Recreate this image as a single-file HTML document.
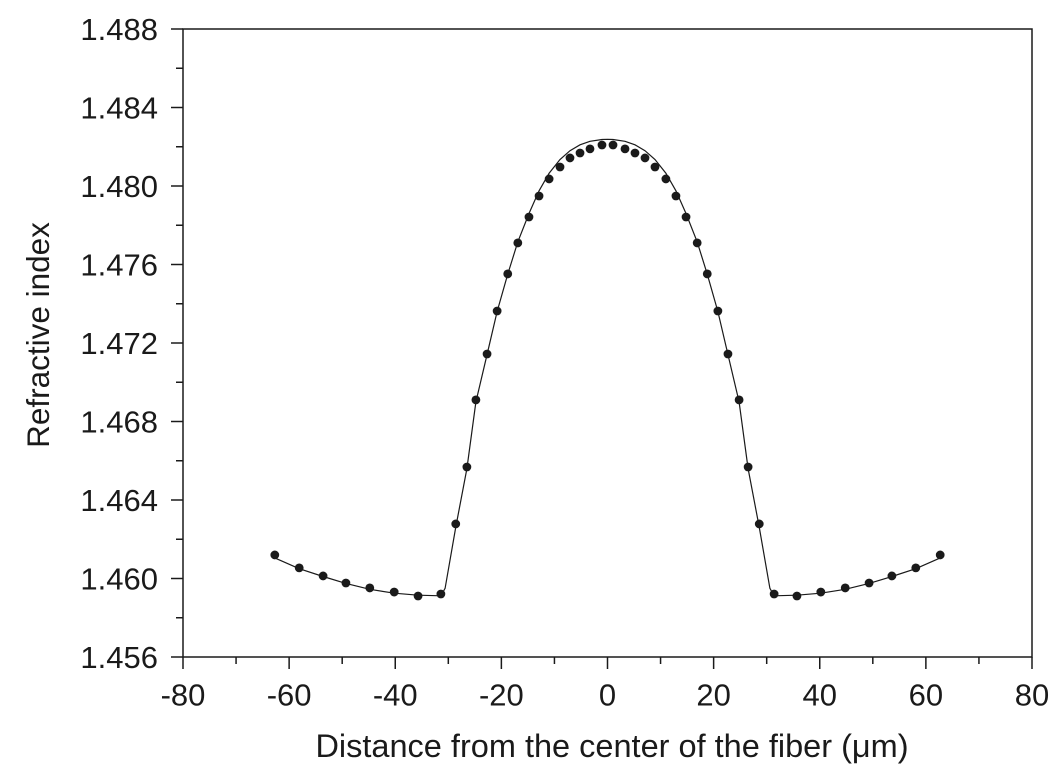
<!DOCTYPE html>
<html><head><meta charset="utf-8"><style>
body{margin:0;background:#fff}
svg text{font-family:"Liberation Sans",sans-serif;fill:#1a1a1a}
</style></head><body>
<svg id="c" width="1053" height="777"></svg>
<script>
const xs=[-62.7,-58.1,-53.6,-49.3,-44.8,-40.2,-35.7,-31.4,-28.6,-26.5,-24.8,-22.7,-20.8,-18.8,-16.9,-14.8,-12.9,-11.0,-8.95,-7.07,-5.18,-3.3,-1.04,1.04,3.3,5.18,7.07,8.95,11.0,12.9,14.8,16.9,18.8,20.8,22.7,24.8,26.5,28.6,31.4,35.7,40.2,44.8,49.3,53.6,58.1,62.7];
const ys=[1.46120,1.46054,1.46013,1.45977,1.45952,1.45931,1.45911,1.45921,1.46278,1.46568,1.46910,1.47144,1.47363,1.47552,1.47710,1.47842,1.47949,1.48036,1.48097,1.48143,1.48168,1.48189,1.48209,1.48209,1.48189,1.48168,1.48143,1.48097,1.48036,1.47949,1.47842,1.47710,1.47552,1.47363,1.47144,1.46910,1.46568,1.46278,1.45921,1.45911,1.45931,1.45952,1.45977,1.46013,1.46054,1.46120];
const fitX=[-62.7,-58.1,-53.6,-49.3,-44.8,-40.2,-35.7,-31.4,-30.6,-28.6,-26.5,-24.8,-22.7,-20.8,-18.8,-16.9,-14.8,-12.9,-11.0,-8.95,-7.07,-5.18,-3.3,-1.04,0,1.04,3.3,5.18,7.07,8.95,11.0,12.9,14.8,16.9,18.8,20.8,22.7,24.8,26.5,28.6,30.6,31.4,35.7,40.2,44.8,49.3,53.6,58.1,62.7];
const fitY=[1.46105,1.46050,1.46010,1.45975,1.45945,1.45925,1.45915,1.45912,1.45950,1.46260,1.46560,1.46900,1.47140,1.47360,1.47550,1.47715,1.47860,1.47975,1.48065,1.48135,1.48180,1.48210,1.48228,1.48237,1.48238,1.48237,1.48228,1.48210,1.48180,1.48135,1.48065,1.47975,1.47860,1.47715,1.47550,1.47360,1.47140,1.46900,1.46560,1.46260,1.45950,1.45912,1.45915,1.45925,1.45945,1.45975,1.46010,1.46050,1.46105];
const xTicks=[-80,-60,-40,-20,0,20,40,60,80];
const yTicks=[1.456,1.460,1.464,1.468,1.472,1.476,1.480,1.484,1.488];
const L=183,R=1032,T=29,B=657;
const sx=v=>L+(v+80)/160*(R-L);
const sy=v=>B-(v-1.456)/0.032*(B-T);
const svg=document.getElementById('c');const NS='http://www.w3.org/2000/svg';
function mk(t,a,p){const e=document.createElementNS(NS,t);for(const k in a)e.setAttribute(k,a[k]);(p||svg).appendChild(e);return e;}
const frame=mk('rect',{x:L,y:T,width:R-L,height:B-T,fill:'none',stroke:'#1a1a1a','stroke-width':1.5});


for(let v=-80;v<=80;v+=10){const major=v%20===0;const t=mk('line',{x1:sx(v),x2:sx(v),y1:B,y2:B+(major?12:7),stroke:'#1a1a1a','stroke-width':1.5});

}
xTicks.forEach(v=>{const t=mk('text',{x:sx(v),y:B+26+0,'text-anchor':'middle','font-size':31,'dominant-baseline':'hanging'});t.textContent=v;

});
for(let i=0;i<=16;i++){const v=1.456+i*0.002;const major=i%2===0;const t=mk('line',{x1:L,x2:L-(major?12:7),y1:sy(v),y2:sy(v),stroke:'#1a1a1a','stroke-width':1.5});

}
yTicks.forEach(v=>{const t=mk('text',{x:L-25,y:sy(v)+11,'text-anchor':'end','font-size':31});t.textContent=v.toFixed(3);

});
const xl=mk('text',{x:612,y:757,'text-anchor':'middle','font-size':32.5});xl.textContent='Distance from the center of the fiber (\u03bcm)';


const yl=mk('text',{x:0,y:0,'text-anchor':'middle','font-size':31.5,transform:'translate(49,335) rotate(-90)'});yl.textContent='Refractive index';


const d=fitX.map((x,i)=>(i?'L':'M')+sx(x).toFixed(1)+','+sy(fitY[i]).toFixed(1)).join('');
const fl=mk('path',{d:d,fill:'none',stroke:'#1a1a1a','stroke-width':1.2});


xs.forEach((x,i)=>{const p=mk('circle',{cx:sx(x),cy:sy(ys[i]),r:4.4,fill:'#1a1a1a'});

});
</script>
</body></html>
